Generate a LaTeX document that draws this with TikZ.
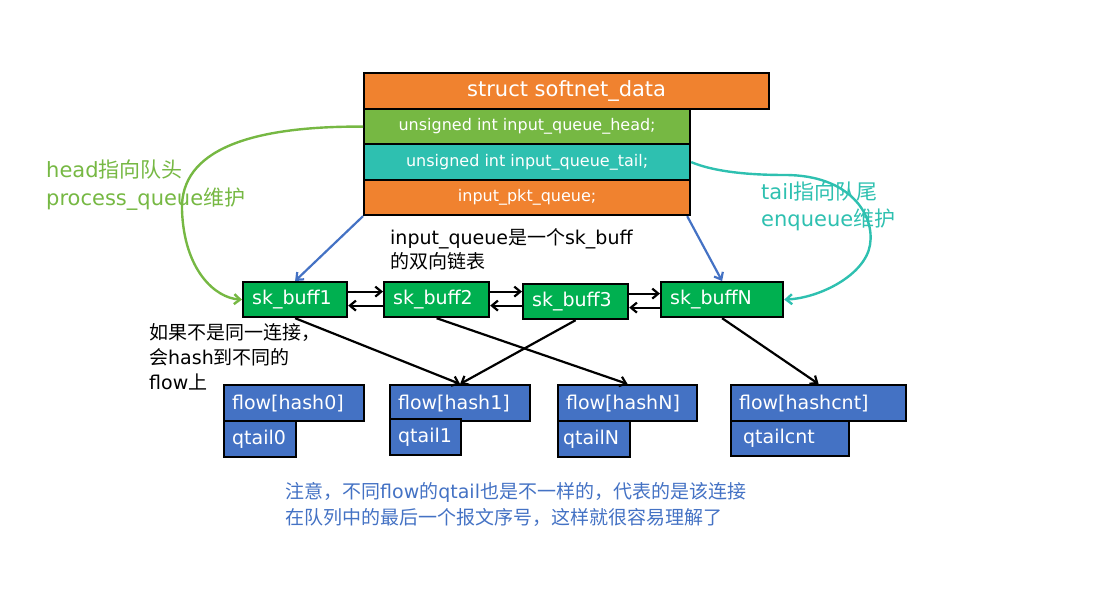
\documentclass[tikz,border=0pt]{standalone}
\usepackage{fontspec}
\setmainfont{DejaVu Sans}
\newfontfamily\cjk{Noto Sans CJK SC}
\usetikzlibrary{arrows.meta}
\definecolor{org}{HTML}{F0822F}
\definecolor{grn}{HTML}{76B843}
\definecolor{tea}{HTML}{2EC0B0}
\definecolor{skg}{HTML}{00B050}
\definecolor{blu}{HTML}{4472C4}
\begin{document}
\begin{tikzpicture}[x=1pt,y=-1pt,
 bx/.style={draw=black,line width=2.2pt,text=white,inner sep=0pt},
 ar/.style={-{Straight Barb[length=6pt,width=10pt]},line width=2.2pt},
 lbl/.style={align=left,anchor=north west,inner sep=0pt}]
\useasboundingbox (0,0) rectangle (1109,599);
% header
\node[bx,fill=org,minimum width=405,minimum height=36,anchor=north west,font=\fontsize{21}{24}\selectfont] (sd) at (363,72) {struct softnet\_data};
\node[bx,fill=grn,minimum width=326,minimum height=35,anchor=north west,font=\fontsize{16}{18}\selectfont] (r1) at (363,108) {unsigned int input\_queue\_head;};
\node[bx,fill=tea,minimum width=326,minimum height=36,anchor=north west,font=\fontsize{16}{18}\selectfont] (r2) at (363,143) {unsigned int input\_queue\_tail;};
\node[bx,fill=org,minimum width=326,minimum height=35,anchor=north west,font=\fontsize{16}{18}\selectfont] (r3) at (363,179) {input\_pkt\_queue;};
% sk_buffs
\tikzset{sk/.style={bx,fill=skg,minimum height=35,anchor=north west,font=\fontsize{19}{21}\selectfont,align=left,inner xsep=9pt}}
\node[sk,text width=86] (s1) at (242,281) {sk\_buff1};
\node[sk,text width=87] (s2) at (383,281) {sk\_buff2};
\node[sk,text width=87] (s3) at (522,283) {sk\_buff3};
\node[sk,text width=104] (sn) at (660,281) {sk\_buffN};
% flows
\tikzset{fl/.style={bx,fill=blu,minimum height=36,anchor=north west,font=\fontsize{19}{21}\selectfont,align=left,inner xsep=8pt}}
\node[fl,text width=124] (f0) at (223,384) {flow[hash0]};
\node[fl,text width=56] (q0) at (223,420) {qtail0};
\node[fl,text width=124] (f1) at (389,384) {flow[hash1]};
\node[fl,text width=55] (q1) at (389,418) {qtail1};
\node[fl,text width=123] (fn) at (557,384) {flow[hashN]};
\node[fl,text width=56,inner xsep=5pt,text width=62] (qn) at (557,420) {qtailN};
\node[fl,text width=159] (fc) at (730,384) {flow[hashcnt]};
\node[fl,text width=102,minimum height=35,inner xsep=12pt,text width=94] (qc) at (730,420) {qtailcnt};
% arrows
\draw[ar,blu] (r3.south west) -- (s1.north);
\draw[ar,blu] ([xshift=-4]r3.south east) -- (sn.north);
\foreach \a/\b in {s1/s2,s2/s3,s3/sn}{
 \draw[ar] ([yshift=8]\a.east) -- ([yshift=8]\b.west|-\a.east);
 \draw[ar] ([yshift=-6]\b.west|-\a.east) -- ([yshift=-6]\a.east);}
\draw[ar] (s1.south) -- (f1.north);
\draw[ar] (s2.south) -- (fn.north);
\draw[ar] (s3.south) -- (f1.north);
\draw[ar] (sn.south) -- (fc.north);
\draw[ar,grn,line width=2.4pt] (r1.west) .. controls (250,126) and (180,150) .. (182,210) .. controls (184,270) and (215,298) .. (s1.west);
\draw[ar,tea,line width=2.4pt] (r2.east) .. controls (710,170) and (740,175) .. (785,175) .. controls (850,175) and (875,215) .. (870,245) .. controls (865,275) and (820,298) .. (sn.east);
% texts
\node[lbl,grn,font=\fontsize{21}{28}\selectfont] at (46,160) {head{\cjk 指向队头}\\process\_queue{\cjk 维护}};
\node[lbl,tea,font=\fontsize{21}{27}\selectfont] at (761,182) {tail{\cjk 指向队尾}\\enqueue{\cjk 维护}};
\node[lbl,font=\fontsize{19}{24}\selectfont] at (390,228) {input\_queue{\cjk 是一个}sk\_buff\\{\cjk 的双向链表}};
\node[lbl,font=\fontsize{19}{25}\selectfont] at (149,323) {{\cjk 如果不是同一连接，}\\{\cjk 会}hash{\cjk 到不同的}\\flow{\cjk 上}};
\node[lbl,blu,font=\fontsize{19}{26}\selectfont] at (285,482) {{\cjk 注意，不同}flow{\cjk 的}qtail{\cjk 也是不一样的，代表的是该连接}\\{\cjk 在队列中的最后一个报文序号，这样就很容易理解了}};
\end{tikzpicture}
\end{document}
